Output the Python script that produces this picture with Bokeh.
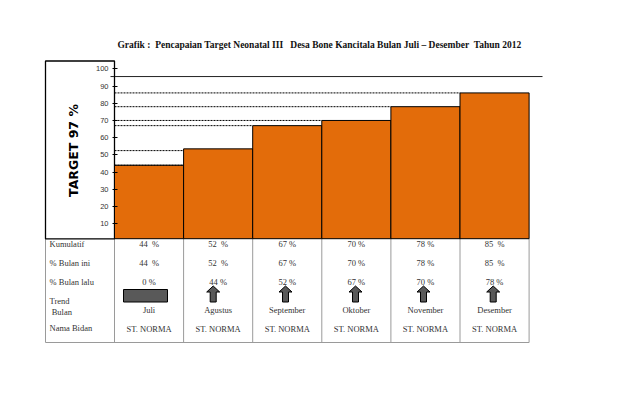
import math
from bokeh.plotting import figure
from bokeh.models import FixedTicker
from bokeh.core.properties import value
from bokeh.embed import file_html
from bokeh.resources import INLINE

months = ["Juli", "Agustus", "September", "Oktober", "November", "Desember"]
bar_values = [44, 53.5, 67, 70, 78, 86]
dotted_values = [44, 52.5, 67, 70, 78, 86]
dotted_ends = [1, 1, 2, 3, 4, 5]
target_value = 95.5
kumulatif = ["44\u00a0 %", "52\u00a0 %", "67 %", "70 %", "78 %", "85\u00a0 %"]
bulan_ini = ["44\u00a0 %", "52\u00a0 %", "67 %", "70 %", "78 %", "85\u00a0 %"]
bulan_lalu = ["0 %", "44 %", "52 %", "67 %", "70 %", "78 %"]
bidan = ["ST. NORMA"] * 6
row_labels = ["Kumulatif", "% Bulan ini", "% Bulan lalu", "Trend", "\u00a0Bulan", "Nama Bidan"]
ticks = [10, 20, 30, 40, 50, 60, 70, 80, 90, 100]
title_text = "Grafik :\u00a0 Pencapaian Target Neonatal III\u00a0\u00a0 Desa Bone Kancitala Bulan Juli \u2013 Desember\u00a0 Tahun 2012"
target_text = "TARGET 97 %"

# page layout helpers (page pixels -> data units)
W, H = 630, 398
X0, CW = 114, 69.1
Y0, PXU = 240.5, 1.722
px = lambda v: (v - X0) / CW
py = lambda v: (Y0 - v) / PXU
BASE = py(238.2)

p = figure(width=W, height=H, output_backend="svg", toolbar_location=None,
           x_range=(px(0), px(W)), y_range=(py(H), py(0)), x_axis_location=None,
           min_border_left=0, min_border_right=0, min_border_top=0, min_border_bottom=0)
p.grid.visible = False
p.outline_line_color = None
p.background_fill_color = "white"
p.border_fill_color = "white"

ax = p.yaxis[0]
ax.fixed_location = 0
ax.ticker = FixedTicker(ticks=ticks)
ax.bounds = (BASE, 100)
ax.minor_tick_line_color = None
ax.major_tick_in = 3
ax.major_tick_out = 2
ax.major_tick_line_color = "black"
ax.axis_line_color = "black"
ax.major_label_text_font = "Liberation Sans"
ax.major_label_text_font_size = "7.5px"
ax.major_label_text_color = "#333333"
ax.major_label_standoff = 4

def hline(x0, x1, yy, color, width=1):
    p.segment(x0=[px(x0)], y0=[py(yy)], x1=[px(x1)], y1=[py(yy)], line_color=color, line_width=width)

def vline(xx, y0, y1, color, width=1):
    p.segment(x0=[px(xx)], y0=[py(y0)], x1=[px(xx)], y1=[py(y1)], line_color=color, line_width=width)

# table grid
GRAY = "#9a9a9a"
for i in range(7):
    vline(X0 + i * CW, 238.2, 342, GRAY)
vline(45, 238.2, 342, GRAY)
hline(45, X0 + 6 * CW, 342, GRAY)

# left box
p.quad(left=[px(45)], right=[px(X0)], top=[py(60.5)], bottom=[py(238.3)], fill_alpha=0,
       line_color="black", line_width=1.3)
p.text(x=[px(73)], y=[py(150)], text=[target_text], angle=math.pi / 2, text_font=value("DejaVu Sans"),
       text_font_style="bold", text_font_size="12.5px", text_align="center", text_baseline="middle",
       text_color="black")

# bars
centers = [i + 0.5 for i in range(6)]
p.vbar(x=centers, top=bar_values, bottom=BASE, width=1, fill_color="#E36C0A",
       line_color="black", line_width=1)

# dotted level lines
p.segment(x0=[0] * 6, y0=dotted_values, x1=dotted_ends, y1=dotted_values,
          line_color="black", line_width=1, line_dash="2 1")

# target line
p.segment(x0=[px(110)], y0=[target_value], x1=[px(542)], y1=[target_value], line_color="#222222", line_width=1)

# title
p.text(x=[px(319)], y=[py(44)], text=[title_text], text_font=value("Liberation Serif"),
       text_font_style="bold", text_font_size="9.5px", text_align="center", text_baseline="middle",
       text_color="#111111")

# table text
def row(texts, yy, xs=centers):
    p.text(x=xs, y=[py(yy)] * len(texts), text=texts, text_font=value("Liberation Serif"),
           text_font_size="8.5px", text_align="center", text_baseline="middle", text_color="#333333")

row(kumulatif, 243.5)
row(bulan_ini, 262.5)
row(bulan_lalu, 281.5)
row(months, 309.5)
row(bidan, 328.5)

yys = [243.5, 262.5, 281.5, 300, 311, 327.5]
p.text(x=[px(49)] * 6, y=[py(v) for v in yys], text=row_labels, text_font=value("Liberation Serif"),
       text_font_size="8.5px", text_baseline="middle", text_color="#333333")

# trend marks
p.quad(left=[px(123)], right=[px(167)], top=[py(289)], bottom=[py(301.5)],
       fill_color="#595959", line_color="black", line_width=1)
arrow_centers = [px(212.7), px(285), px(355), px(423), px(492.7)]
hw, sw = 6.5 / CW, 3 / CW
ytop, yneck, ybot = py(285.5), py(291.5), py(301.5)
xs = [[c, c + hw, c + sw, c + sw, c - sw, c - sw, c - hw] for c in arrow_centers]
ys = [[ytop, yneck, yneck, ybot, ybot, yneck, yneck] for _ in arrow_centers]
p.patches(xs, ys, fill_color="#595959", line_color="black", line_width=1)

open("out.html", "w").write(file_html(p, INLINE))
